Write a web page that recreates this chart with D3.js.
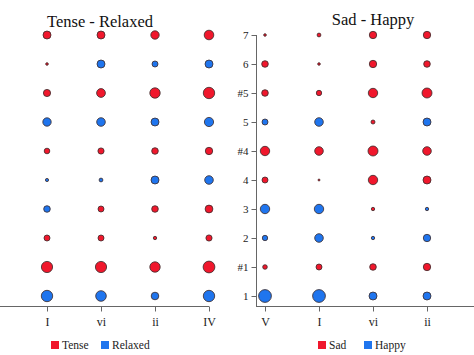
<!DOCTYPE html>
<html>
<head>
<meta charset="utf-8">
<script src="https://cdn.jsdelivr.net/npm/d3@7"></script>
<style>
  html, body { margin: 0; padding: 0; background: #fff; }
  svg { display: block; }
  svg text { font-family: "Liberation Serif", "Times New Roman", serif !important; }
</style>
</head>
<body>
<svg id="chart" width="474" height="355"></svg>
<script>
// Rows (bottom to top)
const rows = ["1", "#1", "2", "3", "4", "#4", "5", "#5", "6", "7"];
// values listed per row from top (7) to bottom (1)
const rowsTopDown = ["7", "6", "#5", "5", "#4", "4", "3", "2", "#1", "1"];
// Left panel: Tense (negative, red) vs Relaxed (positive, blue); columns I, vi, ii, IV
const leftCats = ["I", "vi", "ii", "IV"];
const leftValues = [
  [-40, -40, -42, -48],
  [-13,  40,  30,  40],
  [-36, -44, -52, -57],
  [ 42,  43,  40,  46],
  [-28, -31, -33, -37],
  [ 16,  19,  40,  43],
  [ 33, -30, -33, -39],
  [-30, -30, -17, -31],
  [-56, -56, -52, -59],
  [ 57,  53,  38,  57]
];
// Right panel: Sad (negative, red) vs Happy (positive, blue); columns V, I, vi, ii
const rightCats = ["V", "I", "vi", "ii"];
const rightValues = [
  [-13, -19, -37, -37],
  [-33, -13, -37, -33],
  [-33, -27, -47, -50],
  [ 30,  43, -20,  40],
  [-47, -43, -50, -43],
  [-30, -10, -47, -40],
  [ 47,  47, -17,  17],
  [ 27,  43,  17,  37],
  [-23, -30, -33, -37],
  [ 64,  64,  40,  40]
];
const leftTitle = "Tense - Relaxed";
const rightTitle = "Sad - Happy";
const leftLegend = ["Tense", "Relaxed"];
const rightLegend = ["Sad", "Happy"];

const RED = "#f0172c", BLUE = "#1f75ee", STROKE = "#3a2a2a", AXIS = "#666";
const FONT = "Liberation Serif, Times New Roman, serif";

const svg = d3.select("#chart");
const y = d3.scalePoint().domain(rows).range([296, 35]);
const r = d3.scaleLinear().domain([0, 65]).range([0, 6.5]);

function panel(cats, values, xRange, axisRange, title, titleX, titleY, legend, legendX, showY) {
  const x = d3.scalePoint().domain(cats).range(xRange);
  const g = svg.append("g");
  g.append("line").attr("x1", axisRange[0]).attr("x2", axisRange[1])
    .attr("y1", 306.5).attr("y2", 306.5).attr("stroke", AXIS).attr("stroke-width", 1);
  const xa = g.append("g").attr("transform", "translate(0,306.5)")
    .call(d3.axisBottom(x).tickSize(5).tickPadding(6));
  xa.attr("font-family", FONT);
  xa.select(".domain").remove();
  xa.selectAll("line").attr("stroke", AXIS);
  xa.selectAll("text").attr("font-size", 12).attr("fill", "#222");
  if (showY) {
    const ya = g.append("g").attr("transform", "translate(256.5,0)")
      .call(d3.axisLeft(y).tickSize(5).tickPadding(3));
    ya.attr("font-family", FONT);
    ya.select(".domain").attr("d", "M0,35V306.5").attr("stroke", AXIS);
    ya.selectAll("line").attr("stroke", AXIS);
    ya.selectAll("text").attr("font-size", 11).attr("fill", "#222");
  }
  const pts = [];
  values.forEach((row, i) => row.forEach((v, j) =>
    pts.push({row: rowsTopDown[i], cat: cats[j], v})));
  g.selectAll("circle.pt").data(pts).enter().append("circle")
    .attr("class", "pt")
    .attr("cx", d => x(d.cat))
    .attr("cy", d => y(d.row))
    .attr("r", d => r(Math.abs(d.v)))
    .attr("fill", d => d.v < 0 ? RED : BLUE)
    .attr("stroke", STROKE).attr("stroke-width", 0.8);
  g.append("text").attr("x", titleX).attr("y", titleY).attr("text-anchor", "middle")
    .attr("font-family", FONT).attr("font-size", 16.5).attr("fill", "#111").text(title);
  const colors = [RED, BLUE];
  legend.forEach((lab, i) => {
    const lx = legendX[i];
    g.append("rect").attr("x", lx).attr("y", 341).attr("width", 8).attr("height", 8)
      .attr("fill", colors[i]);
    g.append("text").attr("x", lx + 11).attr("y", 349).attr("font-family", FONT)
      .attr("font-size", 11.5).attr("fill", "#222").text(lab);
  });
}

panel(leftCats, leftValues, [47, 209], [0, 209], leftTitle, 100, 27, leftLegend, [51, 101], false);
panel(rightCats, rightValues, [265, 427], [256, 474], rightTitle, 373, 25, rightLegend, [318, 364], true);
</script>
</body>
</html>
